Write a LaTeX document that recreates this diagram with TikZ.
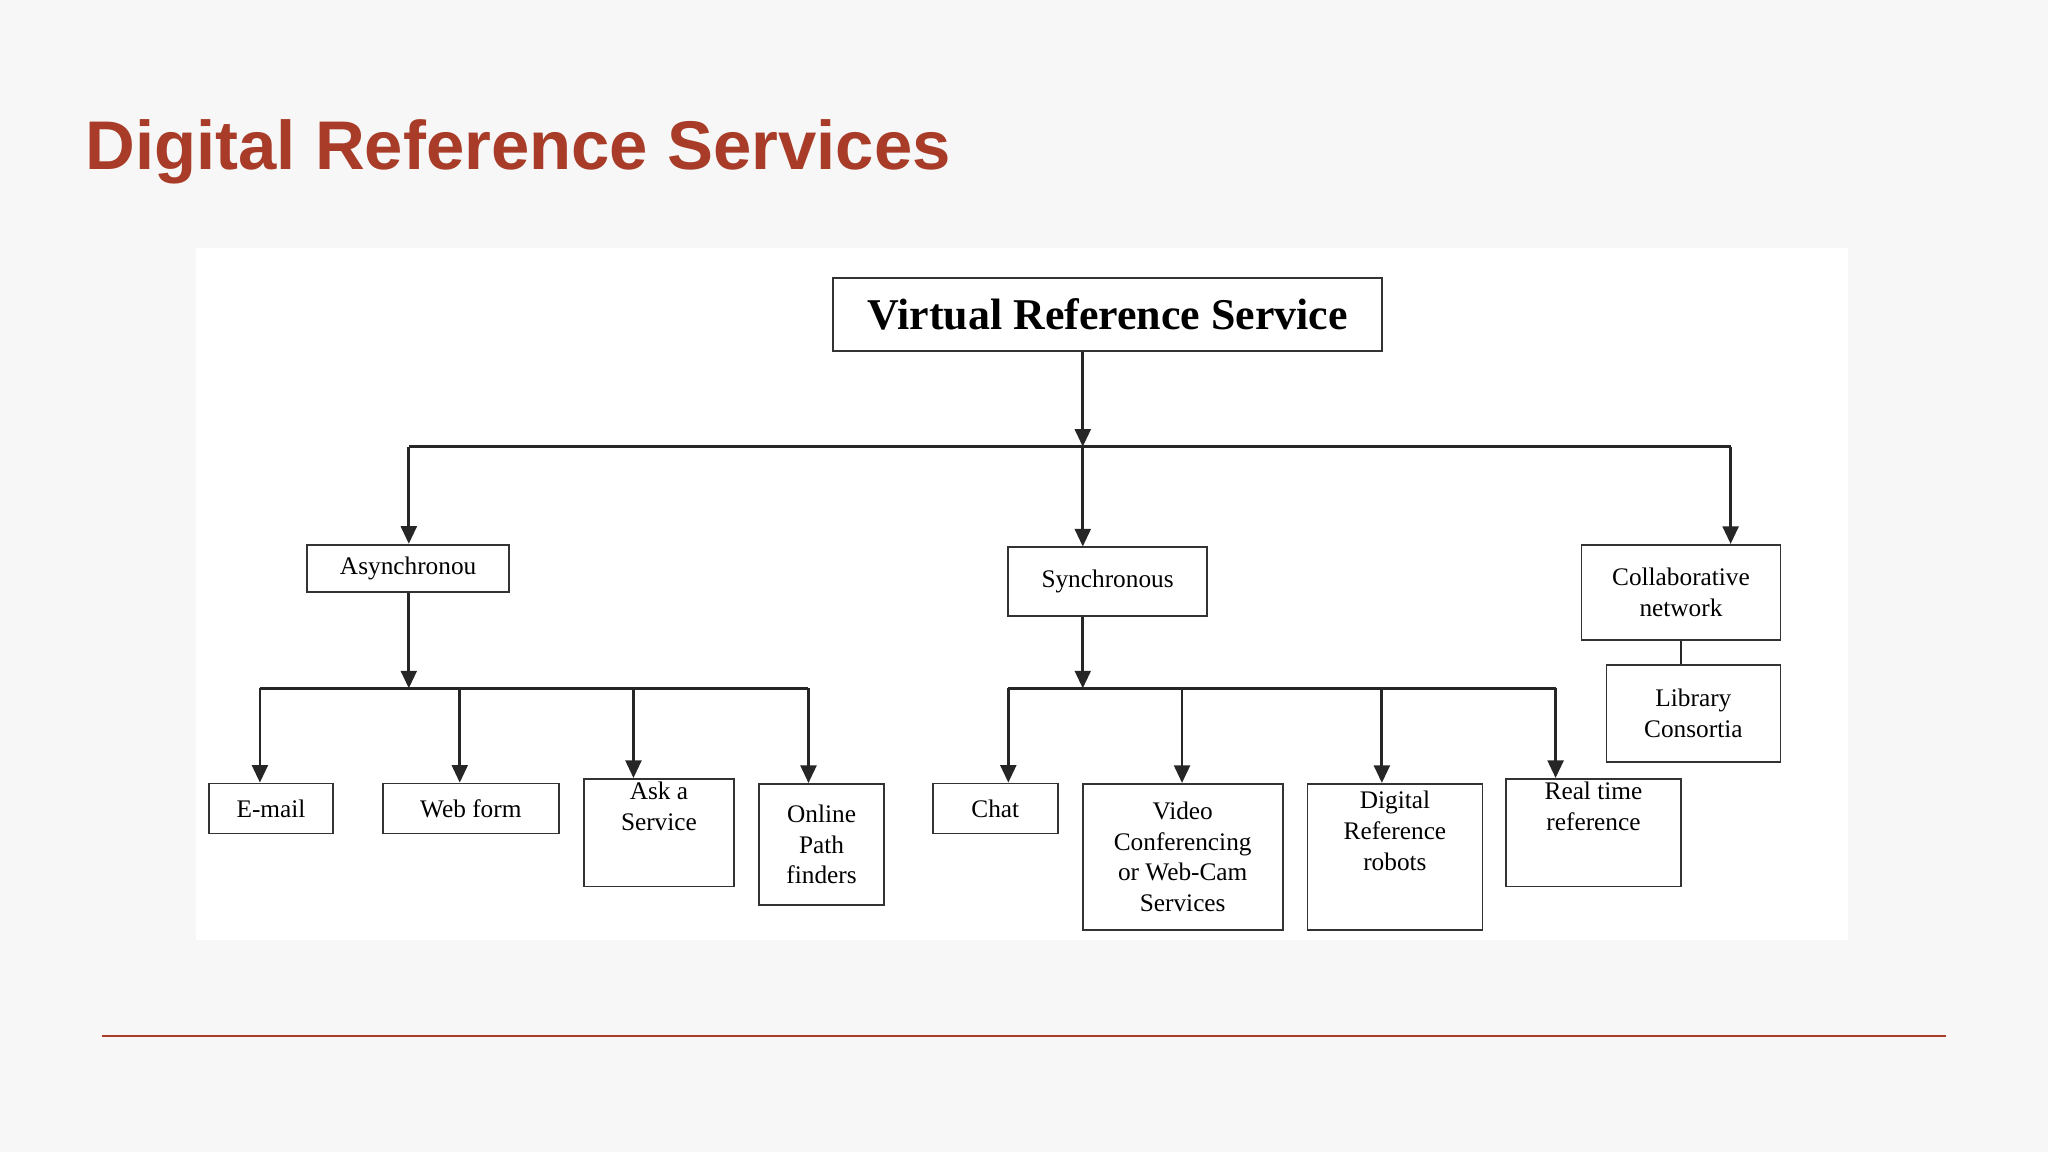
\documentclass[tikz,border=0pt]{standalone}
\usepackage{fontspec}
\setmainfont{Liberation Serif}
\newfontfamily\titlefont{Liberation Sans}
\usetikzlibrary{arrows.meta}
\definecolor{titlered}{HTML}{A83C28}
\begin{document}
\begin{tikzpicture}[
            x=0.013061cm, y=-0.013061cm,
            box/.style={rectangle, draw=black!80, line width=0.5pt, inner sep=1pt, align=center, font=\fontsize{7.2}{8.8}\selectfont},
            arrow/.style={-{Triangle[length=5pt,width=4.5pt]}, line width=0.8pt, black!85},
            bar/.style={line width=0.8pt, black!85}
            ]
            \useasboundingbox (0,0) rectangle (1568,882);
            \fill[black!3] (0,0) rectangle (1568,882);
            \fill[white] (150,190) rectangle (1415,720);
            \draw[titlered, line width=0.6pt] (78,793) -- (1490,793);
            \node[anchor=base west, inner sep=0, text=titlered, font=\titlefont\fontsize{19.6}{23}\selectfont\bfseries] (title) at (65,130) {Digital Reference Services};

            % Top level
            \node[box, minimum width=5.49cm, minimum height=0.73cm, font=\fontsize{12.5}{15}\selectfont\bfseries] (vrs) at (848,241) {Virtual Reference Service};

            % Second level
            \node[box, minimum width=2.02cm, minimum height=0.47cm] (async) at (312.5,435) {Asynchronou};
            \node[box, minimum width=1.99cm, minimum height=0.69cm] (sync) at (848,445.5) {Synchronous};
            \node[box, minimum width=1.99cm, minimum height=0.95cm] (collab) at (1287,453.5) {Collaborative\\network};
            \node[box, minimum width=1.74cm, minimum height=0.97cm] (library) at (1296.5,546) {Library\\Consortia};

            % Asynchronous services
            \node[box, minimum width=1.24cm, minimum height=0.50cm] (email) at (207.5,619) {E-mail};
            \node[box, minimum width=1.76cm, minimum height=0.50cm] (webform) at (360.5,619) {Web form};
            \node[box, minimum width=1.50cm, minimum height=0.98cm] (ask) at (504.5,637.5) {Ask a\\Service\\[6pt]};
            \node[box, minimum width=1.25cm, minimum height=1.21cm] (online) at (629,646.5) {Online\\Path\\finders};

            % Synchronous services
            \node[box, minimum width=1.25cm, minimum height=0.50cm] (chat) at (762,619) {Chat};
            \node[box, minimum width=2.00cm, minimum height=1.46cm] (video) at (905.5,656) {Video\\Conferencing\\or Web-Cam\\Services};
            \node[box, minimum width=1.75cm, minimum height=1.46cm] (robots) at (1068,656) {Digital\\Reference\\robots\\[6pt]};
            \node[box, minimum width=1.75cm, minimum height=0.98cm] (realtime) at (1220,637.5) {Real time\\reference\\[6pt]};

            % Bars
            \coordinate (topbar) at (829,342);
            \coordinate (leftbar) at (313,342);
            \coordinate (rightbar) at (1325,342);
            \coordinate (asyncbar) at (313,527);
            \coordinate (syncbar) at (829,527);
            \draw[bar] (leftbar) -- (rightbar);
            \draw[bar] (199,527) -- (619,527);
            \draw[bar] (772,527) -- (1191,527);

            % Arrows
            \draw[arrow] (vrs.south -| topbar) -- (topbar);
            \draw[arrow] (leftbar) -- (leftbar |- async.north);
            \draw[arrow] (topbar) -- (topbar |- sync.north);
            \draw[arrow] (rightbar) -- (rightbar |- collab.north);
            \draw[bar] (collab.south) -- (library.north -| collab.south);
            \draw[arrow] (async.south -| asyncbar) -- (asyncbar);
            \draw[arrow] (sync.south -| syncbar) -- (syncbar);
            \foreach \xx/\target in {199/email, 352/webform, 485/ask, 619/online, 772/chat, 905/video, 1058/robots, 1191/realtime}{
                \coordinate (branch) at (\xx,527);
                \draw[arrow] (branch) -- (branch |- \target.north);
            }
        \end{tikzpicture}
\end{document}
